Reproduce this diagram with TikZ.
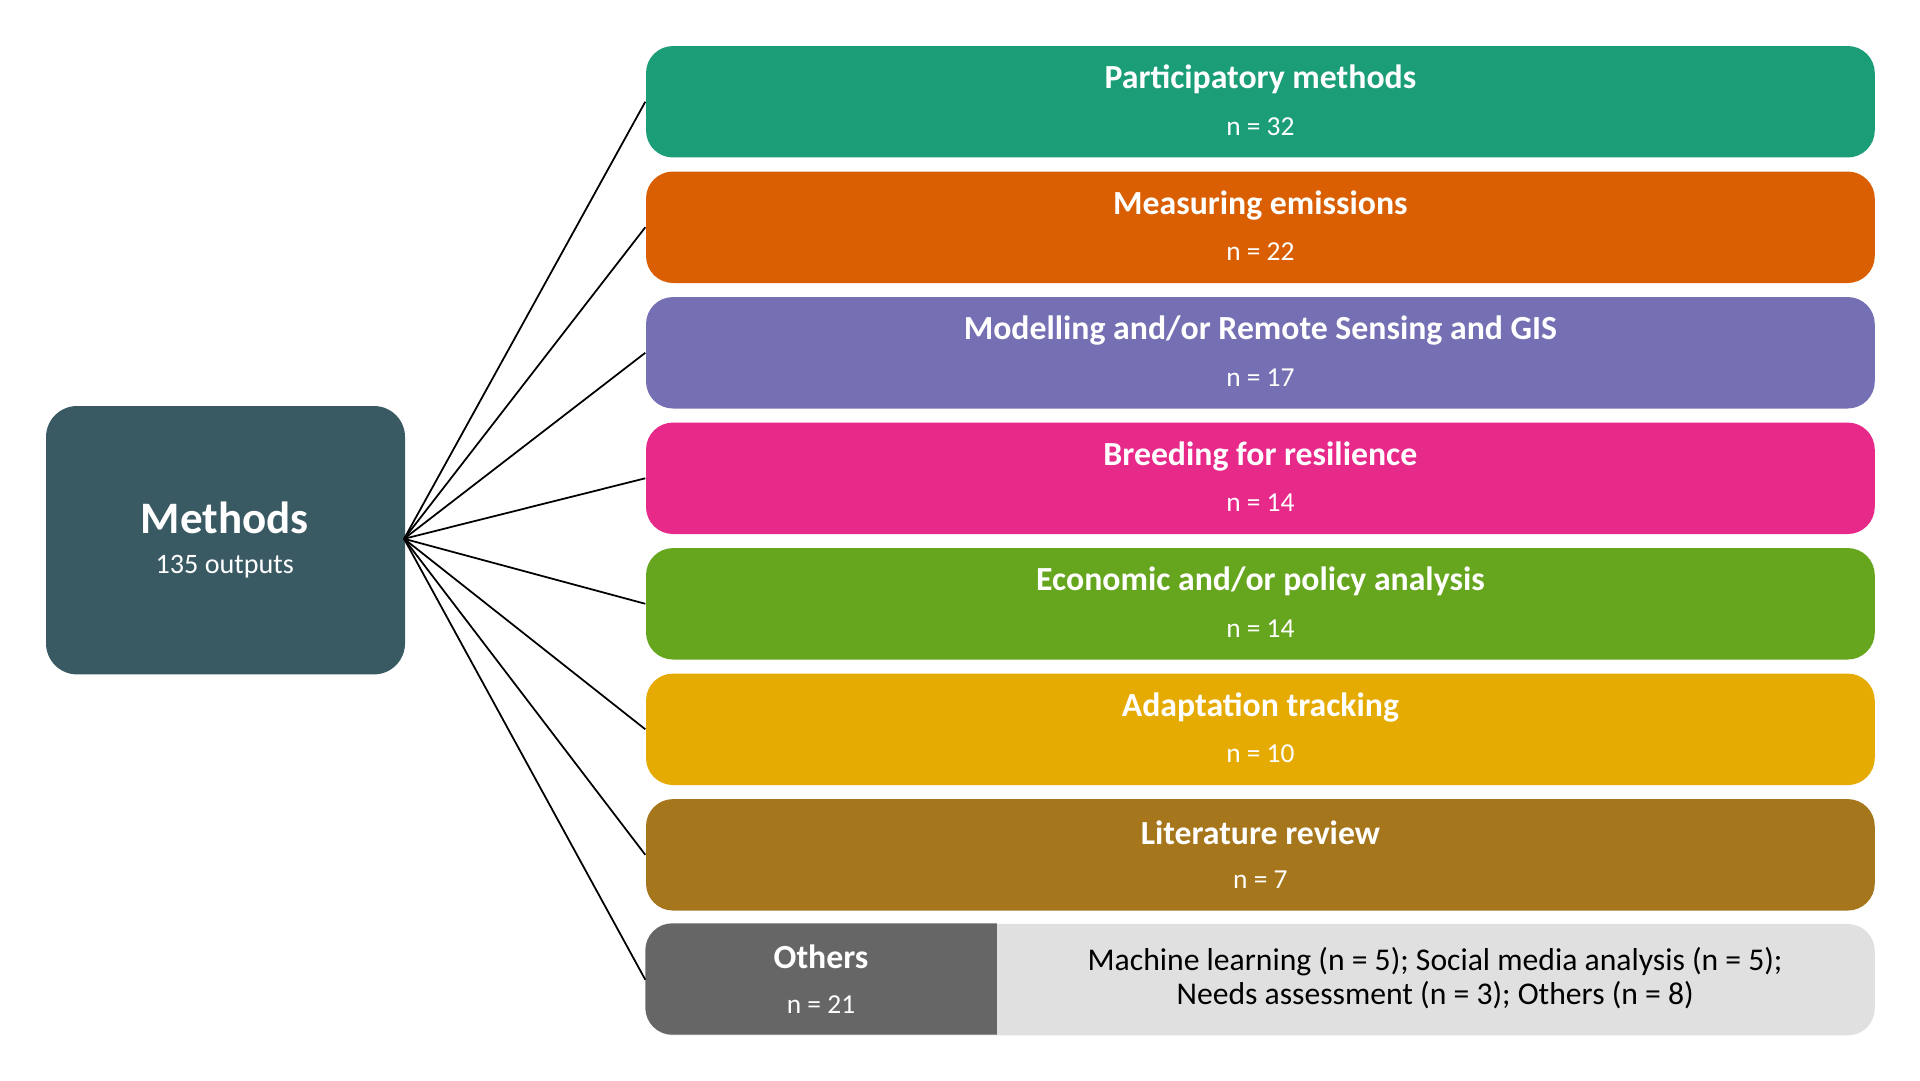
\documentclass[tikz,border=0pt]{standalone}
\usepackage{fontspec}
\setmainfont{Carlito}
\definecolor{cA}{HTML}{1B9E77}
\definecolor{cB}{HTML}{D95F02}
\definecolor{cC}{HTML}{7570B3}
\definecolor{cD}{HTML}{E7298A}
\definecolor{cE}{HTML}{66A61E}
\definecolor{cF}{HTML}{E6AB02}
\definecolor{cG}{HTML}{A6761D}
\definecolor{cH}{HTML}{666666}
\definecolor{cM}{HTML}{3A5A63}
\definecolor{cL}{HTML}{E0E0E0}
\begin{document}
\begin{tikzpicture}[x=0.012245cm,y=-0.012245cm,
  catbox/.style={rounded corners=0.27cm, minimum width=12.28cm, minimum height=1.114cm, inner sep=0pt, anchor=north west},
  ttl/.style={text=white, font=\fontsize{9.6}{11}\selectfont\bfseries, inner sep=0pt},
  cnt/.style={text=white, font=\fontsize{7.8}{9}\selectfont, inner sep=0pt},
  link/.style={black, line width=0.5pt}]
\useasboundingbox (0,0) rectangle (1568,882);
\node[fill=cM, rounded corners=0.31cm, minimum width=3.588cm, minimum height=2.682cm, inner sep=0pt, anchor=north west] (m) at (37,331) {};
\node[text=white, font=\fontsize{12.8}{14}\selectfont\bfseries, inner sep=0pt] (mt) at (183.5,423) {Methods};
\node[text=white, font=\fontsize{8}{9}\selectfont, inner sep=0pt] (mn) at (183.5,463) {135 outputs};
\coordinate (hub) at (330,440);
\foreach \i/\c/\t/\n in {0/cA/Participatory methods/32, 1/cB/Measuring emissions/22, 2/cC/Modelling and\slash or Remote Sensing and GIS/17, 3/cD/Breeding for resilience/14, 4/cE/Economic and\slash or policy analysis/14, 5/cF/Adaptation tracking/10, 6/cG/Literature review/7}{
  \node[catbox, fill=\c] (b\i) at (527,37+102.5*\i) {};
  \node[ttl] (t\i) at ([yshift=0.22cm]b\i.center) {\t};
  \node[cnt] (n\i) at ([yshift=-0.245cm]b\i.center) {n = \n};
  \draw[link] (hub) -- (b\i.west);
}
\node[catbox, fill=cL] (b7) at (527,754) {};
\fill[cH] (814,754) {[rounded corners=0.27cm] -- (527,754) -- (527,845)} -- (814,845) -- cycle;
\node[ttl] (t7) at (670.5,781) {Others};
\node[cnt] (n7) at (670.5,820) {n = 21};
\node[font=\fontsize{9}{9.6}\selectfont, align=center, inner sep=0pt] (o7) at (1172,799) {Machine learning (n = 5); Social media analysis (n = 5);\\Needs assessment (n = 3); Others (n = 8)};
\draw[link] (hub) -- (b7.west);
\end{tikzpicture}
\end{document}
